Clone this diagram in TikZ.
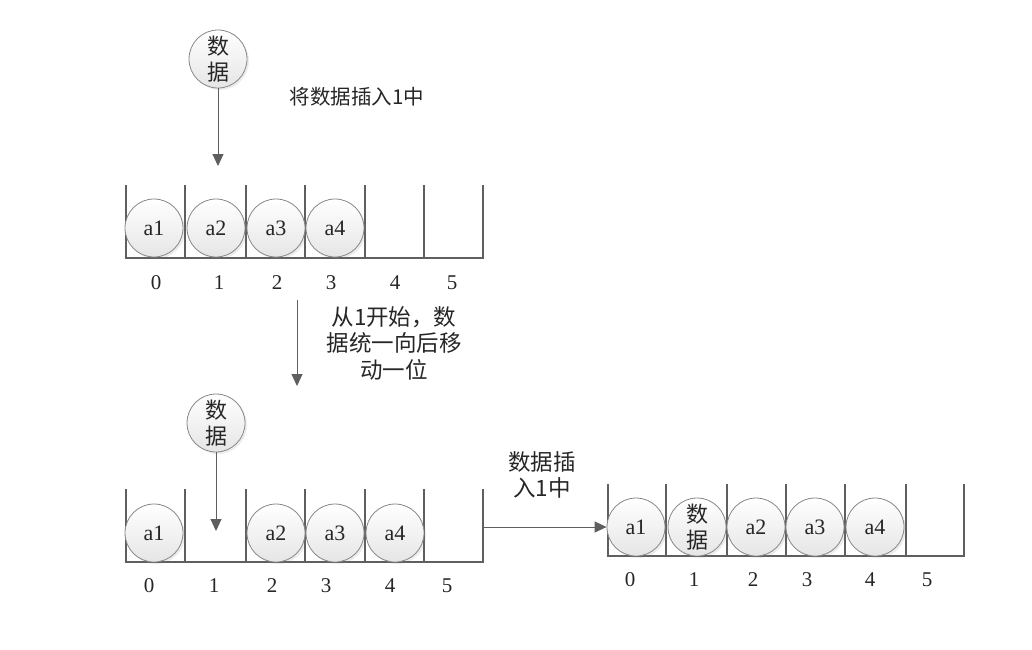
\documentclass[tikz,border=0pt]{standalone}
\usepackage{fontspec}
\setmainfont{Liberation Serif}
\newfontfamily\cjk{Noto Sans CJK SC}
\usetikzlibrary{arrows.meta,shadows}
\definecolor{ln}{HTML}{5F5F5F}
\begin{document}
\begin{tikzpicture}[x=1pt,y=-1pt,
  ball/.style={circle, draw=ln!75, line width=0.8pt, minimum size=58pt, inner sep=0pt,
    top color=white, bottom color=gray!20,
    drop shadow={opacity=0.15, shadow xshift=2pt, shadow yshift=-2pt},
    font=\fontsize{22}{25}\selectfont, text=black!85},
  dball/.style={ball, align=center, font=\cjk\fontsize{22}{25.5}\selectfont},
  arr/.style={draw=ln, line width=1.1pt},
  link/.style={ln, line width=1pt, -{Triangle[length=12pt,width=11pt]}},
  idx/.style={font=\fontsize{21}{24}\selectfont, text=black!85},
  lbl/.style={font=\cjk\fontsize{20.5}{27}\selectfont, text=black!85, align=center}]
\useasboundingbox (0,0) rectangle (1032,649);

% ---------- array 1 ----------
\draw[arr] (126,185) -- (126,258) -- (483,258) -- (483,185);
\foreach \x in {185,246,305,365,424} \draw[arr] (\x,185) -- (\x,258);
\node[ball] (a1-1) at (154,228) {a1};
\node[ball] (a1-2) at (216,228) {a2};
\node[ball] (a1-3) at (276,228) {a3};
\node[ball] (a1-4) at (335,228) {a4};
\node[dball] (d1) at (218,59) {数\\据};
\coordinate (p1) at (218,166);
\draw[link] (d1) -- (p1);
\node[lbl] (t1) at (357,97) {将数据插入1中};
\node[idx] (i1-0) at (156,283) {0};
\node[idx] (i1-1) at (219,283) {1};
\node[idx] (i1-2) at (277,283) {2};
\node[idx] (i1-3) at (331,283) {3};
\node[idx] (i1-4) at (395,283) {4};
\node[idx] (i1-5) at (452,283) {5};

% ---------- middle step ----------
\coordinate (m1) at (297,300);
\coordinate (m2) at (297,386);
\draw[link] (m1) -- (m2);
\node[lbl, font=\cjk\fontsize{22.5}{26.5}\selectfont] (t2) at (394,343) {从1开始，数\\据统一向后移\\动一位};

% ---------- array 2 ----------
\draw[arr] (126,489) -- (126,562) -- (483,562) -- (483,489);
\foreach \x in {185,246,305,365,424} \draw[arr] (\x,489) -- (\x,562);
\node[ball] (a2-1) at (154,533) {a1};
\node[ball] (a2-2) at (276,533) {a2};
\node[ball] (a2-3) at (335,533) {a3};
\node[ball] (a2-4) at (395,533) {a4};
\node[dball] (d2) at (216,423) {数\\据};
\coordinate (p2) at (216,531);
\draw[link] (d2) -- (p2);
\node[idx] (i2-0) at (149,586) {0};
\node[idx] (i2-1) at (214,586) {1};
\node[idx] (i2-2) at (272,586) {2};
\node[idx] (i2-3) at (326,586) {3};
\node[idx] (i2-4) at (390,586) {4};
\node[idx] (i2-5) at (447,586) {5};

% ---------- transfer ----------
\coordinate (h1) at (483,527);
\node[lbl, font=\cjk\fontsize{22.5}{26.5}\selectfont] (t3) at (542,475) {数据插\\入1中};

% ---------- array 3 ----------
\draw[arr] (608,484) -- (608,556) -- (964,556) -- (964,484);
\foreach \x in {666,727,786,845,906} \draw[arr] (\x,484) -- (\x,556);
\node[ball] (a3-1) at (636,527) {a1};
\node[dball] (d3) at (697,527) {数\\据};
\node[ball] (a3-2) at (756,527) {a2};
\node[ball] (a3-3) at (815,527) {a3};
\node[ball] (a3-4) at (875,527) {a4};
\draw[link] (h1) -- (a3-1.west);
\node[idx] (i3-0) at (630,580) {0};
\node[idx] (i3-1) at (694,580) {1};
\node[idx] (i3-2) at (753,580) {2};
\node[idx] (i3-3) at (807,580) {3};
\node[idx] (i3-4) at (870,580) {4};
\node[idx] (i3-5) at (927,580) {5};
\end{tikzpicture}
\end{document}
